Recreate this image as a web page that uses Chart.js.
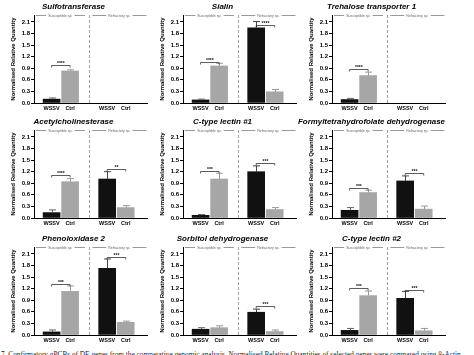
<!DOCTYPE html>
<html><head><meta charset="utf-8">
<script src="https://cdn.jsdelivr.net/npm/chart.js@4"></script>
<style>
html,body{margin:0;padding:0;background:#fff;width:474px;height:355px;overflow:hidden;position:relative}
.p{position:absolute;width:152px;height:115px}
#cap{position:absolute;left:1px;top:350px;font:7.3px 'Liberation Serif',serif;white-space:nowrap;color:#222}
</style></head><body>
<div id="cap">7. Confirmatory qPCRs of DE genes from the comparative genomic analysis. Normalised Relative Quantities of selected genes were compared using β-Actin</div>
<script>
const panelTitles = ['Sulfotransferase','Sialin','Trehalose transporter 1','Acetylcholinesterase','C-type lectin #1','Formyltetrahydrofolate dehydrogenase','Phenoloxidase 2','Sorbitol dehydrogenase','C-type lectin #2'];
const xLabels = ['WSSV','Ctrl','WSSV','Ctrl'];
const groupLabels = ['Susceptible sp.','Refractory sp.'];
const yTicks = [0,0.3,0.6,0.9,1.2,1.5,1.8,2.1];
const yTitle = 'Normalised Relative Quantity';

const susWSSV    = [0.10,0.08,0.09,0.14,0.07,0.20,0.08,0.15,0.12];
const susWSSVErr = [0.03,0.02,0.03,0.07,0.02,0.07,0.05,0.04,0.05];
const susCtrl    = [0.83,0.96,0.71,0.94,1.01,0.66,1.13,0.19,1.02];
const susCtrlErr = [0.03,0.07,0.09,0.08,0.15,0.06,0.14,0.05,0.12];
const refWSSV    = [null,1.95,null,1.01,1.20,0.96,1.73,0.59,0.95];
const refWSSVErr = [null,0.16,null,0.19,0.15,0.13,0.24,0.08,0.18];
const refCtrl    = [null,0.29,null,0.27,0.22,0.23,0.33,0.09,0.11];
const refCtrlErr = [null,0.06,null,0.05,0.05,0.08,0.03,0.04,0.06];
const susSig      = ['****','****','****','****','***','***','***','','***'];
const susSigLevel = [0.98,1.07,0.87,1.11,1.22,0.79,1.33,null,1.23];
const refSig      = ['','****','','**','***','***','***','***','***'];
const refSigLevel = [null,2.02,null,1.26,1.43,1.17,2.01,0.74,1.16];

const xPos = [1,2,4,5];
const colLeft = [0,149,298];
const rowTop = [0,115,232];
const FONT = "'Liberation Sans', Arial, sans-serif";

function makeAnnot(i){
  return {id:'annot'+i, afterDatasetsDraw(chart){
    const {ctx, chartArea:ca, scales:{x,y}} = chart;
    ctx.save();
    ctx.strokeStyle='#888'; ctx.lineWidth=0.8; ctx.setLineDash([3,2]);
    const dx = Math.round(x.getPixelForValue(3))+0.5;
    ctx.beginPath(); ctx.moveTo(dx,ca.top); ctx.lineTo(dx,ca.bottom); ctx.stroke();
    ctx.setLineDash([]);
    ctx.font = "3.6px "+FONT; ctx.textAlign='center'; ctx.textBaseline='middle';
    const regions=[[0.15,2.8],[3.2,6.12]];
    regions.forEach((r,g)=>{
      const a=x.getPixelForValue(r[0]), b=x.getPixelForValue(r[1]);
      const c=(a+b)/2, w=ctx.measureText(groupLabels[g]).width;
      const yy=Math.round(ca.top)+0.5;
      ctx.strokeStyle='#999'; ctx.lineWidth=1;
      ctx.beginPath(); ctx.moveTo(a,yy); ctx.lineTo(c-w/2-2,yy); ctx.moveTo(c+w/2+2,yy); ctx.lineTo(b,yy); ctx.stroke();
      ctx.fillStyle='#666'; ctx.fillText(groupLabels[g],c,yy);
    });
    const vals=[[susWSSV[i],susWSSVErr[i],'#666'],[susCtrl[i],susCtrlErr[i],'#999'],[refWSSV[i],refWSSVErr[i],'#444'],[refCtrl[i],refCtrlErr[i],'#999']];
    vals.forEach((v,k)=>{
      if(v[0]==null) return;
      const px=Math.round(x.getPixelForValue(xPos[k]))+0.5;
      const y0=y.getPixelForValue(v[0]), y1=y.getPixelForValue(v[0]+v[1]);
      ctx.strokeStyle=v[2]; ctx.lineWidth=1;
      ctx.beginPath(); ctx.moveTo(px,y0); ctx.lineTo(px,y1); ctx.moveTo(px-3.5,y1); ctx.lineTo(px+3.5,y1); ctx.stroke();
    });
    [[susSig[i],susSigLevel[i],0],[refSig[i],refSigLevel[i],2]].forEach(s=>{
      if(!s[0]) return;
      const a=x.getPixelForValue(xPos[s[2]]), b=x.getPixelForValue(xPos[s[2]+1]);
      const yb=Math.round(y.getPixelForValue(s[1]))+0.5;
      ctx.strokeStyle='#333'; ctx.lineWidth=0.8;
      ctx.beginPath(); ctx.moveTo(a,yb+2); ctx.lineTo(a,yb); ctx.lineTo(b,yb); ctx.lineTo(b,yb+2); ctx.stroke();
      ctx.fillStyle='#111'; ctx.font="bold 5px "+FONT; ctx.textAlign='center'; ctx.textBaseline='bottom';
      ctx.fillText(s[0],(a+b)/2,yb+0.5);
    });
    ctx.restore();
  }};
}

for(let i=0;i<9;i++){
  const d=document.createElement('div'); d.className='p';
  d.style.left=colLeft[i%3]+'px'; d.style.top=rowTop[Math.floor(i/3)]+'px';
  const cv=document.createElement('canvas'); cv.width=152; cv.height=115;
  d.appendChild(cv); document.body.appendChild(d);
  const vals=[susWSSV[i],susCtrl[i],refWSSV[i],refCtrl[i]];
  new Chart(cv,{
    type:'bar',
    data:{datasets:[{
      data:xPos.map((p,k)=>({x:p,y:vals[k]})),
      backgroundColor:['#111111','#a6a6a6','#111111','#a6a6a6'],
      borderWidth:0, barThickness:17
    }]},
    options:{
      responsive:false, animation:false, devicePixelRatio:1,
      layout:{padding:{left:0,right:5,top:0,bottom:0}},
      plugins:{legend:{display:false}, tooltip:{enabled:false},
        title:{display:true,text:panelTitles[i],color:'#000',
          font:{family:FONT,size:8,weight:'bold',style:'italic'},padding:{top:2,bottom:3.4}}},
      scales:{
        x:{type:'linear',min:0.05,max:6.15,offset:false,
          afterBuildTicks:a=>{a.ticks=xPos.map(v=>({value:v}));},
          afterFit:a=>{a.height=12;},
          grid:{display:false,drawTicks:false,tickLength:0}, border:{color:'#000',width:1},
          ticks:{autoSkip:false,maxRotation:0,minRotation:0,padding:2,color:'#000',
            font:{family:FONT,size:5.5,weight:'bold'},callback:(v,k)=>xLabels[k]}},
        y:{min:0,max:2.28,
          afterBuildTicks:a=>{a.ticks=yTicks.map(v=>({value:v}));},
          afterFit:a=>{a.width=34;},
          grid:{display:true,drawOnChartArea:false,tickLength:3,color:'#000'},
          border:{color:'#000',width:1},
          ticks:{padding:1,color:'#000',font:{family:FONT,size:6,weight:'bold'},callback:v=>Number(v).toFixed(1)},
          title:{display:true,text:yTitle,color:'#000',font:{family:FONT,size:6,weight:'bold'},padding:{top:10,bottom:0}}}
      }
    },
    plugins:[makeAnnot(i)]
  });
}
</script>
</body></html>
